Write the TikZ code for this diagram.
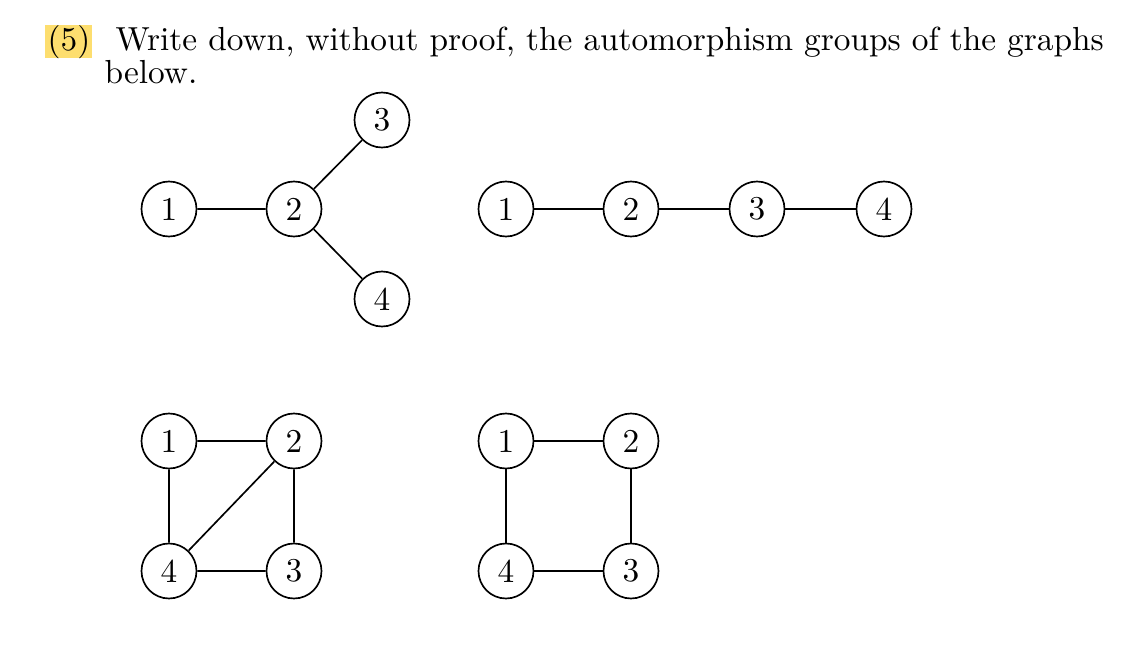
\documentclass[tikz,border=0pt]{standalone}
\begin{document}
\begin{tikzpicture}[x=0.3pt,y=-0.3pt,
  v/.style={circle,draw,line width=0.5pt,minimum size=16.5pt,inner sep=0pt,fill=white},
  e/.style={line width=0.5pt}]
\useasboundingbox (0,0) rectangle (1148,672);
\fill[yellow!60!orange!55] (45,25) rectangle (92,58);
\node[anchor=base west,inner sep=0pt] (q) at (47,50) {(5)};
\node[anchor=base west,inner sep=0pt] (t1) at (115,50) {Write down, without proof, the automorphism groups of the graphs};
\node[anchor=base west,inner sep=0pt] (t2) at (104,83) {below.};
% graph 1
\node[v] (a1) at (169,209) {1};
\node[v] (a2) at (294,209) {2};
\node[v] (a3) at (382,120) {3};
\node[v] (a4) at (382,299) {4};
\draw[e] (a1)--(a2) (a2)--(a3) (a2)--(a4);
% graph 2
\node[v] (b1) at (506,209) {1};
\node[v] (b2) at (631,209) {2};
\node[v] (b3) at (757,209) {3};
\node[v] (b4) at (884,209) {4};
\draw[e] (b1)--(b2) (b2)--(b3) (b3)--(b4);
% graph 3
\node[v] (c1) at (169,441) {1};
\node[v] (c2) at (294,441) {2};
\node[v] (c4) at (169,571) {4};
\node[v] (c3) at (294,571) {3};
\draw[e] (c1)--(c2) (c2)--(c3) (c3)--(c4) (c4)--(c1) (c2)--(c4);
% graph 4
\node[v] (d1) at (506,441) {1};
\node[v] (d2) at (631,441) {2};
\node[v] (d4) at (506,571) {4};
\node[v] (d3) at (631,571) {3};
\draw[e] (d1)--(d2) (d2)--(d3) (d3)--(d4) (d4)--(d1);
\end{tikzpicture}
\end{document}
